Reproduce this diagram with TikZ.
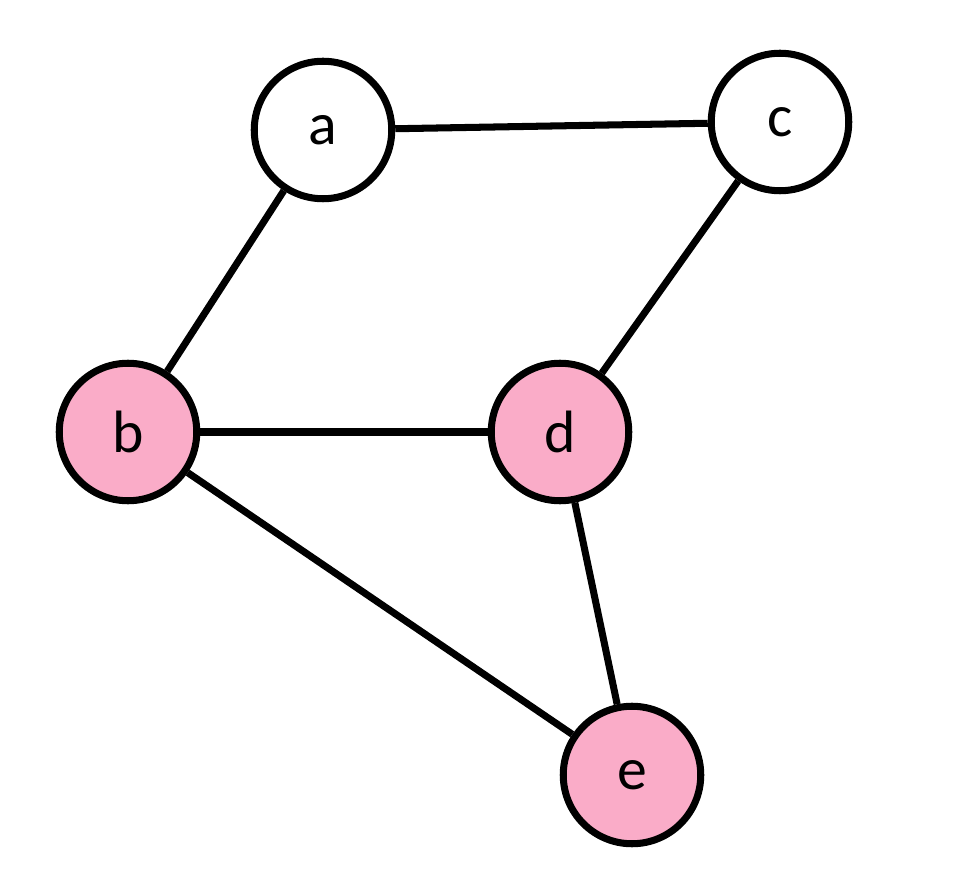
\documentclass[tikz,border=0pt]{standalone}
\usepackage{fontspec}
\setmainfont{Carlito}
\usepackage{tikz}

\definecolor{vpink}{RGB}{250,172,200}

\begin{document}
\begin{tikzpicture}
\tikzset{vtx/.style={circle,draw=black,line width=4pt,minimum size=2.75cm,inner sep=0pt,font=\fontsize{34}{40}\selectfont},
  marked/.style={vtx,fill=vpink},
  edge/.style={line width=4pt}}
\useasboundingbox (0,0) rectangle (19.42,17.54);

\node[vtx,fill=white] (a) at (6.46,14.94) {a};
\node[vtx,fill=white] (c) at (15.6,15.1) {c};
\node[marked] (b) at (2.56,8.9) {b};
\node[marked] (d) at (11.2,8.9) {d};
\node[marked] (e) at (12.64,2.04) {e};

\draw[edge] (a) -- (c);
\draw[edge] (a) -- (b);
\draw[edge] (c) -- (d);
\draw[edge] (b) -- (d);
\draw[edge] (b) -- (e);
\draw[edge] (d) -- (e);
\end{tikzpicture}
\end{document}
